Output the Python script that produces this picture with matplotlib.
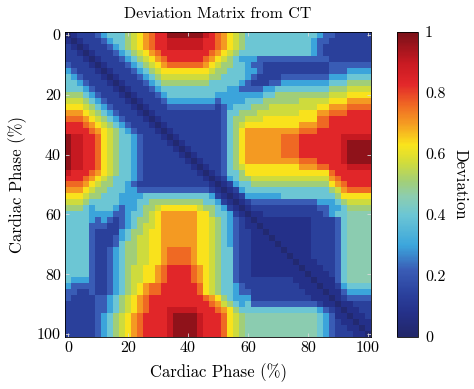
import numpy as np
import matplotlib
matplotlib.use('Agg')
import matplotlib.pyplot as plt
from matplotlib.colors import LinearSegmentedColormap

plt.rcParams['font.family'] = 'cmr10'
plt.rcParams['axes.formatter.use_mathtext'] = True

# cardiac phase (%) of each row / column of the matrix
phases = list(range(0, 101, 2))
tick_vals = [0, 20, 40, 60, 80, 100]
cbar_ticks = [0, 0.2, 0.4, 0.6, 0.8, 1]
cbar_labels = ['0', '0.2', '0.4', '0.6', '0.8', '1']

# deviation value behind each colour code used in the rows below
codes = {'0': 0.02, '1': 0.08, '2': 0.14, '3': 0.22, '4': 0.30, '5': 0.40,
         'g': 0.46, '6': 0.51, '7': 0.57, '8': 0.63, '9': 0.70, 'a': 0.76,
         'b': 0.83, 'c': 0.90, 'd': 0.97}

# upper triangle, row i gives columns i..50
# (run length: "5*3" = three cells of code 5); matrix is symmetric
upper_rows = [
    "0 1 2*3 3 4 5*3 6 7 8 9 a b*2 d*6 c b a 9 8 7 6 5*12 4 3*2 2*6",
    "0 1 2*3 3 4 5*2 6 7 8 9 a b*2 c*6 b*2 a 9 8 7 6 5*11 4 3*2 2*7",
    "0 1 2*3 3 4 5 6 7 8 9 a b*2 c*6 b*2 a 9 8 7 6 5*11 4 3 2*8",
    "0 1 2*3 3 4 5 6 7 8 9 a b*8 a 9 8 7 6 5*12 4 3 2*8",
    "0 1 2*3 3 4 5 6 7 8 9 a b*6 a 9 8 7 6 5 4*3 3*12 2*7",
    "0 1 2*3 3 4 5 6 7 8 9 a*6 9 8 7 6*2 5*2 4 3*2 2*11 3*7",
    "0 1 2*3 3 4 5 6 7 8*8 7 6*2 5*3 4*2 3 2*11 3*3 4*4",
    "0 1 2*3 3 4 5 6 7*8 6*2 5*4 4 3 2*4 3*8 4*3 5*4",
    "0 1 2*3 3 4 5 6*8 5*5 4 3 2*3 3*2 4*8 5*3 6*4",
    "0 1 2*3 3 4 5*11 4*2 3*4 4*2 5*9 6*3 7*4",
    "0 1 2*3 3 4 5*8 4*8 5*2 6*9 7*3 8*4",
    "0 1 2*3 3 4*8 3 4*4 5*3 6*6 7*5 8*3 9*4",
    "0 1 2*3 3*8 2 3 4 5*3 6*3 7*8 8*2 9*3 a*4",
    "0 1 2*11 3 5*2 6*3 7*7 8*3 9*2 a*3 b*4",
    "0 1 2*10 3 5 6*2 7*3 8*9 a*2 b*7",
    "0 1 2*9 3 5 6 7 8*9 9*3 a*2 b*7",
    "0 1 2*8 3 5 6 8 9*9 a*3 b*9",
    "0 1 2*7 3 5 6 8 9*6 a*3 b*7 c*5",
    "0 1 2*6 3 5 6 8 9*6 a*3 b*7 c d*4",
    "0 1 2*5 3 5 6 8 9*6 a*3 b*7 c d*4",
    "0 1 2*4 3 5 6 8 9*6 a*3 b*7 c d*4",
    "0 1 2*3 3 5 6 8 9*9 a*3 b*4 c d*4",
    "0 1 2*2 3 5 6 7 8*9 9*3 a*2 b*3 c*4",
    "0 1 2 3 5*2 6 8*14 a b*6",
    "0 1 2 4 5 6*2 7*13 9 a b*5",
    "0 1 2 4 5*2 6*13 8 9 a b*4",
    "0 1 2 4 5*14 6 7 9 a*4",
    "0 1 2 4*6 5*9 6 8*5",
    "0 1 2 3*11 4*3 5 6 7*4",
    "0 1 2*11 3*2 4*2 5 6*4",
    "0 1*2 2*10 3 4 5*2 g*4",
    "0 1*9 2*4 3 5 g*4",
    "0 1*8 2*4 3 5 g*4",
    "0 1*7 2*4 3 5 g*4",
    "0 1*6 2*4 3 5 g*4",
    "0 1*5 2*4 3 5 g*4",
    "0 1*4 2*4 3 5 g*4",
    "0 1*3 2*4 3 5 g*4",
    "0 1*3 2*3 3 5 g*4",
    "0 1*3 2*2 3 5 g*4",
    "0 1*3 2 3 5 g*4",
    "0 1*3 3 5 g*4",
    "0 1*2 2 4 5*4",
    "0 1*2 3 4*4",
    "0 1 2 3*4",
    "0 1*2 2*3",
    "0 1*2 2*2",
    "0 1*2 2",
    "0 1*2",
    "0 1",
    "0",
]


def expand(row):
    out = []
    for tok in row.split():
        ch, _, k = tok.partition('*')
        out += [codes[ch]] * int(k or 1)
    return out


n = len(phases)
dev = np.zeros((n, n))
for i, row in enumerate(upper_rows):
    vals = expand(row)[:n - i]
    vals += [vals[-1]] * (n - i - len(vals))
    dev[i, i:] = vals
dev = dev + np.triu(dev, 1).T

# muted jet-like colours as printed in the figure
cmap = LinearSegmentedColormap.from_list('dev', [
    (0.00, '#222769'), (0.08, '#25318a'), (0.15, '#2c44a0'),
    (0.22, '#3a5db6'), (0.30, '#3ca6dc'), (0.40, '#6cc6d4'),
    (0.46, '#8ccdb0'), (0.51, '#a2cf78'), (0.57, '#d0dc3c'),
    (0.63, '#fae41c'), (0.70, '#f59c22'), (0.76, '#f06a23'),
    (0.83, '#e2272a'), (0.90, '#c81a22'), (1.00, '#7a1018')])

step = phases[1] - phases[0]
ext = (phases[0] - step / 2, phases[-1] + step / 2,
       phases[-1] + step / 2, phases[0] - step / 2)

fig = plt.figure(figsize=(4.74, 3.89), dpi=100)
ax = fig.add_axes([65 / 474, 52 / 389, 306 / 474, 305 / 389])
im = ax.imshow(dev, cmap=cmap, vmin=0, vmax=1, interpolation='nearest',
               extent=ext, aspect='auto')
ax.set_xticks(tick_vals)
ax.set_yticks(tick_vals)
ax.set_xticklabels([str(t) for t in tick_vals])
ax.set_yticklabels([str(t) for t in tick_vals])
ax.tick_params(direction='in', length=3, width=0.6, color='0.85',
               labelsize=11.5, top=True, right=True, pad=3)
for s in ax.spines.values():
    s.set_linewidth(0.6)
ax.set_xlabel('Cardiac Phase (%)', fontsize=12, labelpad=6)
ax.set_ylabel('Cardiac Phase (%)', fontsize=12, labelpad=7)
ax.set_title('Deviation Matrix from CT', fontsize=11.5, pad=10)

cax = fig.add_axes([397 / 474, 52 / 389, 21 / 474, 305 / 389])
cb = fig.colorbar(im, cax=cax, ticks=cbar_ticks)
cb.ax.set_yticklabels(cbar_labels)
cb.ax.tick_params(length=0, labelsize=11.5, pad=5)
cb.outline.set_linewidth(0.6)
cb.set_label('Deviation', rotation=270, labelpad=16, fontsize=12)

fig.savefig('out.png', dpi=100)
